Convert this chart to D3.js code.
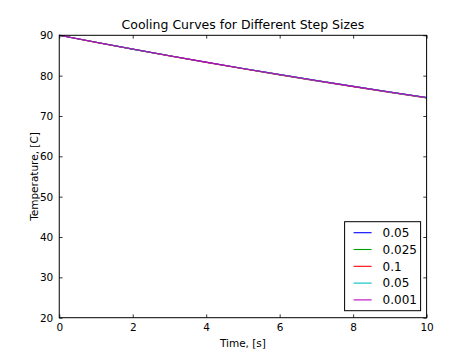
<!DOCTYPE html>
<html lang="en">
<head>
<meta charset="utf-8">
<title>Cooling Curves</title>
<script src="https://cdn.jsdelivr.net/npm/d3@7"></script>
<style>
  body { margin: 0; background: #fff; }
  text { font-family: "DejaVu Sans", sans-serif; fill: #000; }
</style>
</head>
<body>
<svg width="474" height="353"></svg>
<script>
// values
const times = [0, 1, 2, 3, 4, 5, 6, 7, 8, 9, 10];
const temp005 = [90, 88.27, 86.58, 84.94, 83.33, 81.77, 80.25, 78.77, 77.33, 75.92, 74.55];
const temp0025 = [90, 88.27, 86.58, 84.94, 83.34, 81.78, 80.26, 78.78, 77.34, 75.93, 74.56];
const temp01 = [90, 88.25, 86.55, 84.90, 83.29, 81.72, 80.19, 78.70, 77.25, 75.84, 74.46];
const temp005b = [90, 88.27, 86.58, 84.94, 83.33, 81.77, 80.25, 78.77, 77.33, 75.92, 74.55];
const temp0001 = [90, 88.27, 86.59, 84.95, 83.35, 81.79, 80.27, 78.79, 77.35, 75.95, 74.58];
const seriesNames = ['0.05', '0.025', '0.1', '0.05', '0.001'];
const seriesValues = [temp005, temp0025, temp01, temp005b, temp0001];
const colors = ['#0000ff', '#00a000', '#ff0000', '#00bfbf', '#bf00bf'];
const xTicks = [0, 2, 4, 6, 8, 10];
const yTicks = [20, 30, 40, 50, 60, 70, 80, 90];

const margin = { left: 59.25, right: 47.4, top: 35.3, bottom: 35.3 };
const svg = d3.select('svg');
const width = +svg.attr('width');
const height = +svg.attr('height');
const innerWidth = width - margin.left - margin.right;
const innerHeight = height - margin.top - margin.bottom;

const g = svg.append('g')
    .attr('transform', `translate(${margin.left}, ${margin.top})`);

const xScale = d3.scaleLinear().domain([0, 10]).range([0, innerWidth]);
const yScale = d3.scaleLinear().domain([20, 90]).range([innerHeight, 0]);

// lines
const line = d3.line()
    .x((d, i) => xScale(times[i]))
    .y(d => yScale(d));

seriesValues.forEach((vals, i) => {
    g.append('path')
        .datum(vals)
        .attr('fill', 'none')
        .attr('stroke', colors[i])
        .attr('stroke-width', 1.1)
        .attr('d', line);
});

// axes with inward ticks on all sides
const tickLen = 3.3;
const styleAxis = sel => {
    sel.select('.domain').remove();
    sel.selectAll('line').attr('stroke', '#000').attr('stroke-width', 0.8);
    sel.selectAll('text').style('font-size', '10.5px').style('font-family', '"DejaVu Sans", sans-serif');
};
const noLabels = sel => {
    sel.select('.domain').remove();
    sel.selectAll('text').remove();
    sel.selectAll('line').attr('stroke', '#000').attr('stroke-width', 0.8);
};

g.append('g')
    .attr('transform', `translate(0, ${innerHeight})`)
    .call(d3.axisBottom(xScale).tickValues(xTicks).tickSize(-tickLen).tickPadding(6).tickFormat(d3.format('d')))
    .call(styleAxis);
g.append('g')
    .call(d3.axisTop(xScale).tickValues(xTicks).tickSize(-tickLen))
    .call(noLabels);
g.append('g')
    .call(d3.axisLeft(yScale).tickValues(yTicks).tickSize(-tickLen).tickPadding(6).tickFormat(d3.format('d')))
    .call(styleAxis);
g.append('g')
    .attr('transform', `translate(${innerWidth}, 0)`)
    .call(d3.axisRight(yScale).tickValues(yTicks).tickSize(-tickLen))
    .call(noLabels);

// frame
g.append('rect')
    .attr('width', innerWidth)
    .attr('height', innerHeight)
    .attr('fill', 'none')
    .attr('stroke', '#000')
    .attr('stroke-width', 1);

// title and labels
svg.append('text')
    .attr('x', margin.left + innerWidth / 2)
    .attr('y', margin.top - 6)
    .attr('text-anchor', 'middle')
    .style('font-size', '12.5px')
    .text('Cooling Curves for Different Step Sizes');

svg.append('text')
    .attr('x', margin.left + innerWidth / 2)
    .attr('y', height - 6)
    .attr('text-anchor', 'middle')
    .style('font-size', '10.5px')
    .text('Time, [s]');

svg.append('text')
    .attr('transform', `translate(38, ${margin.top + innerHeight / 2}) rotate(-90)`)
    .attr('text-anchor', 'middle')
    .style('font-size', '10.5px')
    .text('Temperature, [C]');

// legend
const legend = g.append('g')
    .attr('transform', `translate(${innerWidth - 82}, ${innerHeight - 96})`);
legend.append('rect')
    .attr('width', 76)
    .attr('height', 89)
    .attr('fill', '#fff')
    .attr('stroke', '#000')
    .attr('stroke-width', 1);
seriesNames.forEach((name, i) => {
    const row = legend.append('g').attr('transform', `translate(0, ${11 + i * 16.8})`);
    row.append('line')
        .attr('x1', 9).attr('x2', 27)
        .attr('stroke', colors[i])
        .attr('stroke-width', 1.1);
    row.append('text')
        .attr('x', 38)
        .attr('dy', '0.35em')
        .style('font-size', '12px')
        .text(name);
});
</script>
</body>
</html>
